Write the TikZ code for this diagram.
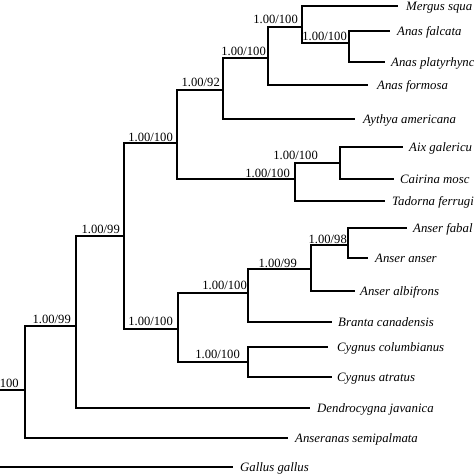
\documentclass[tikz,border=0pt]{standalone}
\usepackage{fontspec}
\setmainfont{Liberation Serif}
\begin{document}
\begin{tikzpicture}[x=1pt,y=-1pt,
  br/.style={line width=1.8pt, black},
  leaf/.style={anchor=base west, inner sep=0pt, font=\fontsize{12.8}{14}\selectfont\itshape},
  supp/.style={anchor=base east, inner sep=0pt, font=\fontsize{12.6}{14}\selectfont}]
\useasboundingbox (0,0) rectangle (474,474);
\clip (0,0) rectangle (474,474);
% leaf ends
\coordinate (mer) at (398,6);
\coordinate (fal) at (390,31);
\coordinate (pla) at (385,62);
\coordinate (for) at (368,85);
\coordinate (ayt) at (355,119);
\coordinate (aix) at (403,147);
\coordinate (cai) at (394,179);
\coordinate (tad) at (385,201);
\coordinate (fab) at (407,228);
\coordinate (ans) at (368,258);
\coordinate (alb) at (355,291);
\coordinate (bra) at (332,322);
\coordinate (col) at (328,347);
\coordinate (atr) at (332,377);
\coordinate (den) at (310,408);
\coordinate (sem) at (288,438);
\coordinate (gal) at (233,467);
% internal nodes
\coordinate (n1) at (349,43);
\coordinate (n2) at (302,27);
\coordinate (n3) at (268,58);
\coordinate (n4) at (223,90);
\coordinate (n5) at (340,163);
\coordinate (n6) at (295,179);
\coordinate (n7) at (177,143);
\coordinate (n8) at (348,245);
\coordinate (n9) at (311,269);
\coordinate (n10) at (248,293);
\coordinate (n11) at (248,362);
\coordinate (n12) at (178,329);
\coordinate (n13) at (124,236);
\coordinate (n14) at (76,326);
\coordinate (n15) at (25,390);
\coordinate (root) at (-6,428);
% branches
\draw[br] (n1) |- (fal); \draw[br] (n1) |- (pla);
\draw[br] (n2) |- (mer); \draw[br] (n2) |- (n1);
\draw[br] (n3) |- (n2); \draw[br] (n3) |- (for);
\draw[br] (n4) |- (n3); \draw[br] (n4) |- (ayt);
\draw[br] (n5) |- (aix); \draw[br] (n5) |- (cai);
\draw[br] (n6) |- (n5); \draw[br] (n6) |- (tad);
\draw[br] (n7) |- (n4); \draw[br] (n7) |- (n6);
\draw[br] (n8) |- (fab); \draw[br] (n8) |- (ans);
\draw[br] (n9) |- (n8); \draw[br] (n9) |- (alb);
\draw[br] (n10) |- (n9); \draw[br] (n10) |- (bra);
\draw[br] (n11) |- (col); \draw[br] (n11) |- (atr);
\draw[br] (n12) |- (n10); \draw[br] (n12) |- (n11);
\draw[br] (n13) |- (n7); \draw[br] (n13) |- (n12);
\draw[br] (n14) |- (n13); \draw[br] (n14) |- (den);
\draw[br] (n15) |- (n14); \draw[br] (n15) |- (sem);
\draw[br] (root) |- (n15); \draw[br] (root) |- (gal);
% leaf labels
\node[leaf] (Lmer) at (406,10.3) {Mergus squa};
\node[leaf] (Lfal) at (397,35.3) {Anas falcata};
\node[leaf] (Lpla) at (391,66.3) {Anas platyrhync};
\node[leaf] (Lfor) at (377,89.3) {Anas formosa};
\node[leaf] (Layt) at (363,123.3) {Aythya americana};
\node[leaf] (Laix) at (409,151.3) {Aix galericu};
\node[leaf] (Lcai) at (400,183.3) {Cairina mosc};
\node[leaf] (Ltad) at (392,205.3) {Tadorna ferrugi};
\node[leaf] (Lfab) at (413,232.3) {Anser fabal};
\node[leaf] (Lans) at (375,262.3) {Anser anser};
\node[leaf] (Lalb) at (360,295.3) {Anser albifrons};
\node[leaf] (Lbra) at (338,326.3) {Branta canadensis};
\node[leaf] (Lcol) at (337,351.3) {Cygnus columbianus};
\node[leaf] (Latr) at (337,381.3) {Cygnus atratus};
\node[leaf] (Lden) at (317,412.3) {Dendrocygna javanica};
\node[leaf] (Lsem) at (295,442.3) {Anseranas semipalmata};
\node[leaf] (Lgal) at (240,471.3) {Gallus gallus};
% support labels
\node[supp] (s1) at (347,40) {1.00/100};
\node[supp] (s2) at (298,23) {1.00/100};
\node[supp] (s3) at (266,55) {1.00/100};
\node[supp] (s4) at (220,86) {1.00/92};
\node[supp] (s5) at (318,159) {1.00/100};
\node[supp] (s6) at (290,177) {1.00/100};
\node[supp] (s7) at (173,141) {1.00/100};
\node[supp] (s8) at (347,243) {1.00/98};
\node[supp] (s9) at (297,267) {1.00/99};
\node[supp] (s10) at (247,289) {1.00/100};
\node[supp] (s11) at (240,358) {1.00/100};
\node[supp] (s12) at (173,325) {1.00/100};
\node[supp] (s13) at (120,233) {1.00/99};
\node[supp] (s14) at (71,323) {1.00/99};
\node[supp] (s15) at (19,387) {100};
\end{tikzpicture}
\end{document}
